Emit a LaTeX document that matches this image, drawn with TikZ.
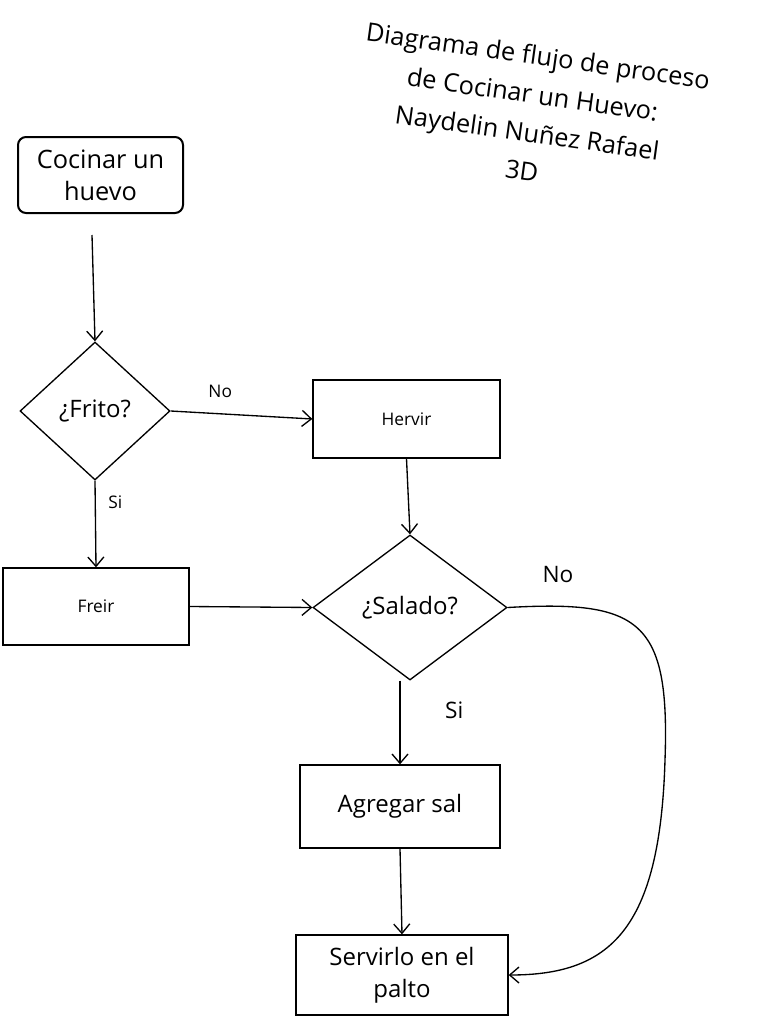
\documentclass[tikz,border=0pt]{standalone}
\usepackage{fontspec}
\setmainfont{Open Sans}
\usetikzlibrary{shapes.geometric,arrows.meta}
\begin{document}
\tikzset{every picture/.style={line width=1pt}}

\begin{tikzpicture}[x=0.75pt,y=0.75pt,yscale=-1,xscale=1,
  paso/.style={draw,rectangle,inner sep=0.75pt,align=center},
  decision/.style={draw,diamond,inner sep=0pt,aspect=1.1},
  flecha/.style={-{Straight Barb[length=7pt,width=12pt]}}]
\useasboundingbox (0,0) rectangle (768,1024);

% Title
\node (titulo) at (530,113) [rotate=-8,align=center,font=\fontsize{19}{29}\selectfont]
  {Diagrama de flujo de proceso\\de Cocinar un Huevo:\\Naydelin Nuñez Rafael\\3D};

% Steps
\node (inicio) at (100.5,175) [paso,rounded corners=6pt,line width=1.5pt,minimum width=123.75pt,minimum height=57pt,font=\fontsize{19}{24}\selectfont] {Cocinar un\\huevo};
\node (frito) at (95,411) [decision,minimum width=112.5pt,minimum height=103.5pt,font=\fontsize{18}{22}\selectfont] {¿Frito?};
\node (hervir) at (406.5,419) [paso,minimum width=140.25pt,minimum height=58.5pt,font=\fontsize{13}{16}\selectfont] {Hervir};
\node (freir) at (96,606.5) [paso,minimum width=139.5pt,minimum height=57.75pt,font=\fontsize{13}{16}\selectfont] {Freir};
\node (salado) at (410,607.5) [decision,minimum width=145.5pt,minimum height=108.75pt,font=\fontsize{18}{22}\selectfont] {¿Salado?};
\node (sal) at (400,806.5) [paso,minimum width=150pt,minimum height=62.25pt,font=\fontsize{18}{22}\selectfont] {Agregar sal};
\node (servir) at (402,975) [paso,minimum width=159pt,minimum height=60pt,font=\fontsize{18}{24}\selectfont] {Servirlo en el\\palto};

% Connectors
\coordinate (c1) at (92,235);
\draw [flecha] (c1) -- (frito.north);
\draw [flecha] (frito.east) -- (hervir.west) node [pos=0.35,above=8pt,font=\fontsize{13}{16}\selectfont] {No};
\draw [flecha] (frito.south) -- (freir.north) node [pos=0.25,right=6pt,font=\fontsize{13}{16}\selectfont] {Si};
\draw [flecha] (hervir.south) -- (salado.north);
\draw [flecha] (freir.east) -- (salado.west);
\draw [flecha] (salado.south -| sal.north) -- (sal.north) node [pos=0.35,right=30pt,font=\fontsize{17}{20}\selectfont] {Si};
\draw [flecha] (sal.south) -- (servir.north);
\draw [flecha] (salado.east) .. controls (640,600) and (670,620) .. (665,760) .. controls (660,930) and (610,975) .. (servir.east);
\node (no2) at (558,575) [font=\fontsize{17}{20}\selectfont] {No};

\end{tikzpicture}
\end{document}
